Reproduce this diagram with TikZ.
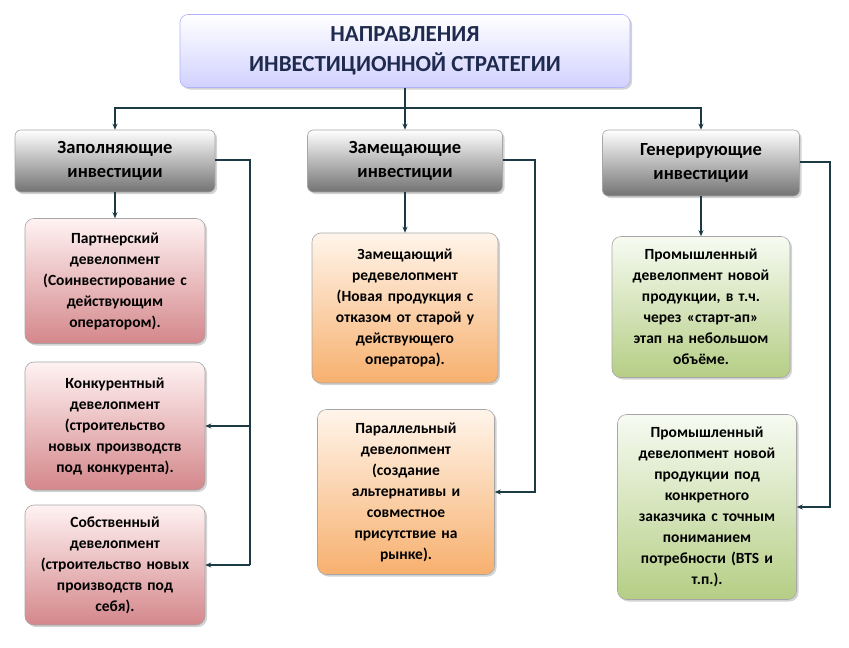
\documentclass[tikz,border=0pt]{standalone}
\usepackage{fontspec}
\setmainfont{Carlito}
\usetikzlibrary{shadows,arrows.meta}
\definecolor{pinkb}{HTML}{D4878B}
\definecolor{orngb}{HTML}{F7B06E}
\definecolor{grnb}{HTML}{B5CE85}
\definecolor{lncol}{HTML}{1B3A44}
\definecolor{navy}{HTML}{1F2A4F}
\begin{document}
\begin{tikzpicture}[x=1pt,y=-1pt,
 base/.style={rounded corners=9pt,draw=black!35,line width=0.6pt,drop shadow={opacity=0.35,shadow xshift=2pt,shadow yshift=-2pt},align=center,font=\bfseries,inner sep=2pt},
 head/.style={base,rounded corners=6pt,top color=white,bottom color=black!55,font=\bfseries\fontsize{18.5}{24}\selectfont},
 pink/.style={base,top color=red!5,bottom color=pinkb,font=\bfseries\fontsize{15.5}{21}\selectfont},
 orng/.style={base,top color=orange!8,bottom color=orngb,font=\bfseries\fontsize{15.5}{21}\selectfont},
 grn/.style={base,top color=green!30!olive!5,bottom color=grnb,font=\bfseries\fontsize{15.5}{21}\selectfont},
 ln/.style={draw=lncol,line width=1.2pt},
 ar/.style={ln,-{Stealth[length=6pt,width=5pt]}}]
\useasboundingbox (0,0) rectangle (849,648);
\node[base,rounded corners=8pt,top color=white,bottom color=blue!18,draw=blue!30,minimum width=450,minimum height=73,font=\bfseries\fontsize{23}{30}\selectfont,text=navy] (top) at (405,51) {НАПРАВЛЕНИЯ\\ИНВЕСТИЦИОННОЙ СТРАТЕГИИ};
\node[head,minimum width=200,minimum height=62] (L) at (115,161) {Заполняющие\\инвестиции};
\node[head,minimum width=195,minimum height=62] (M) at (405,161) {Замещающие\\инвестиции};
\node[head,minimum width=197,minimum height=66] (R) at (701,163) {Генерирующие\\инвестиции};
\node[pink,minimum width=180,minimum height=125,text width=176] (p1) at (115,281) {Партнерский\\девелопмент\\(Соинвестирование с\\действующим\\оператором).};
\node[pink,minimum width=180,minimum height=128,text width=176] (p2) at (115,426) {Конкурентный\\девелопмент\\(строительство\\новых производств\\под конкурента).};
\node[pink,minimum width=180,minimum height=120,text width=176] (p3) at (115,565) {Собственный\\девелопмент\\(строительство новых\\производств под\\себя).};
\node[orng,minimum width=186,minimum height=150,text width=182] (o1) at (405,308) {Замещающий\\редевелопмент\\(Новая продукция с\\отказом от старой у\\действующего\\оператора).};
\node[orng,minimum width=177,minimum height=165,text width=173] (o2) at (406,492) {Параллельный\\девелопмент\\(создание\\альтернативы и\\совместное\\присутствие на\\рынке).};
\node[grn,minimum width=178,minimum height=141,text width=174] (g1) at (701,307) {Промышленный\\девелопмент новой\\продукции, в т.ч.\\через «старт-ап»\\этап на небольшом\\объёме.};
\node[grn,minimum width=179,minimum height=185,text width=175] (g2) at (707,507) {Промышленный\\девелопмент новой\\продукции под\\конкретного\\заказчика с точным\\пониманием\\потребности (BTS и\\т.п.).};
\coordinate (j) at (405,108);
\draw[ln] (top.south) -- (j);
\draw[ar] (j) -| (L.north);
\draw[ar] (j) -- (M.north);
\draw[ar] (j) -| (R.north);
\draw[ar] (L.south) -- (p1.north);
\draw[ar] (M.south) -- (o1.north);
\draw[ar] (R.south) -- (g1.north);
\coordinate (lc) at (250,160);
\draw[ln] (L.east |- lc) -- (lc) -- (250,565);
\draw[ar] (250,426) -- (p2.east);
\draw[ar] (250,565) -- (p3.east);
\draw[ar] (M.east |- 0,160) -- (535,160) |- (o2.east);
\draw[ar] (R.east |- 0,162) -- (830,162) |- (g2.east);
\end{tikzpicture}
\end{document}
